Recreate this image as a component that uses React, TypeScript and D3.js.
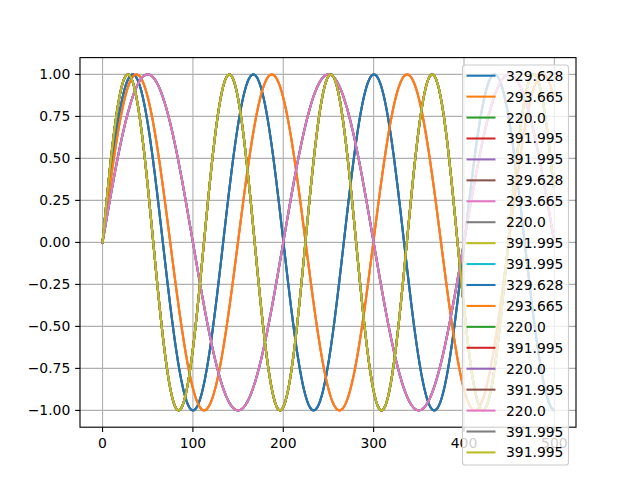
import * as d3 from 'd3';

// legend labels = tone frequencies (Hz), in plotting order
const FREQS = [
  329.628, 293.665, 220.0, 391.995, 391.995,
  329.628, 293.665, 220.0, 391.995, 391.995,
  329.628, 293.665, 220.0, 391.995, 220.0,
  391.995, 220.0, 391.995, 391.995,
];
const LABELS = FREQS.map(f => (Number.isInteger(f) ? f.toFixed(1) : String(f)));
const SAMPLE_RATE = 44000;
const N_SAMPLES = 500;
const X_TICKS = [0, 100, 200, 300, 400, 500];
const Y_TICKS = [-1, -0.75, -0.5, -0.25, 0, 0.25, 0.5, 0.75, 1];

const COLORS = [
  '#1f77b4', '#ff7f0e', '#2ca02c', '#d62728', '#9467bd',
  '#8c564b', '#e377c2', '#7f7f7f', '#bcbd22', '#17becf',
];

const W = 640;
const H = 480;
const M = { left: 80, right: 576, top: 57.6, bottom: 427.2 };
const FONT = 'DejaVu Sans, sans-serif';
const PT = 100 / 72; // points -> px at 100 dpi

export default function App() {
  const idx = d3.range(N_SAMPLES);
  const series = FREQS.map(f => idx.map(i => [i, Math.sin((2 * Math.PI * f * i) / SAMPLE_RATE)] as [number, number]));

  const xPad = (N_SAMPLES - 1) * 0.05;
  const x = d3.scaleLinear().domain([-xPad, N_SAMPLES - 1 + xPad]).range([M.left, M.right]);
  const y = d3.scaleLinear().domain([-1.1, 1.1]).range([M.bottom, M.top]);

  const line = d3.line<[number, number]>()
    .x(d => x(d[0]))
    .y(d => y(d[1]));

  const fmtY = (v: number) => v.toFixed(2).replace('-', '\u2212');
  const tickLen = 3.5 * PT;

  // legend geometry
  const legX = 462.5;
  const legY = 65;
  const legW = 106;
  const pitch = 20.93;
  const firstY = 75.7;
  const legH = 400;

  return (
    <svg width={W} height={H} style={{ display: 'block', margin: -8 }} fontFamily={FONT}>
      <rect width={W} height={H} fill="#fff" />
      <defs>
        <clipPath id="plot">
          <rect x={M.left} y={M.top} width={M.right - M.left} height={M.bottom - M.top} />
        </clipPath>
      </defs>

      {/* grid */}
      <g stroke="#b0b0b0" strokeWidth={0.8 * PT}>
        {X_TICKS.map(t => (
          <line key={'gx' + t} x1={x(t)} x2={x(t)} y1={M.top} y2={M.bottom} />
        ))}
        {Y_TICKS.map(t => (
          <line key={'gy' + t} x1={M.left} x2={M.right} y1={y(t)} y2={y(t)} />
        ))}
      </g>

      {/* waves */}
      <g clipPath="url(#plot)" fill="none" strokeWidth={1.5 * PT} strokeLinejoin="round" strokeLinecap="square">
        {series.map((s, i) => (
          <path key={i} d={line(s) ?? ''} stroke={COLORS[i % COLORS.length]} />
        ))}
      </g>

      {/* spines */}
      <rect x={M.left} y={M.top} width={M.right - M.left} height={M.bottom - M.top}
        fill="none" stroke="#000" strokeWidth={0.8 * PT} />

      {/* x axis */}
      <g fontSize={13.9} textAnchor="middle" fill="#000">
        {X_TICKS.map(t => (
          <g key={'xt' + t}>
            <line x1={x(t)} x2={x(t)} y1={M.bottom} y2={M.bottom + tickLen} stroke="#000" strokeWidth={0.8 * PT} />
            <text x={x(t)} y={M.bottom + 2 * tickLen + 10.6}>{t}</text>
          </g>
        ))}
      </g>

      {/* y axis */}
      <g fontSize={13.9} textAnchor="end" fill="#000">
        {Y_TICKS.map(t => (
          <g key={'yt' + t}>
            <line x1={M.left - tickLen} x2={M.left} y1={y(t)} y2={y(t)} stroke="#000" strokeWidth={0.8 * PT} />
            <text x={M.left - 2 * tickLen} y={y(t)} dy="0.36em">{fmtY(t)}</text>
          </g>
        ))}
      </g>

      {/* legend */}
      <g>
        <rect x={legX} y={legY} width={legW} height={legH} rx={2.8} ry={2.8}
          fill="#fff" fillOpacity={0.8} stroke="#cccccc" strokeWidth={0.8 * PT} />
        {LABELS.map((lab, i) => {
          const cy = firstY + i * pitch;
          return (
            <g key={'lg' + i}>
              <line x1={466.5} x2={495.5} y1={cy} y2={cy} stroke={COLORS[i % COLORS.length]} strokeWidth={1.5 * PT} />
              <text x={506} y={cy} dy="0.36em" fontSize={13.9} fill="#000">{lab}</text>
            </g>
          );
        })}
      </g>
    </svg>
  );
}
